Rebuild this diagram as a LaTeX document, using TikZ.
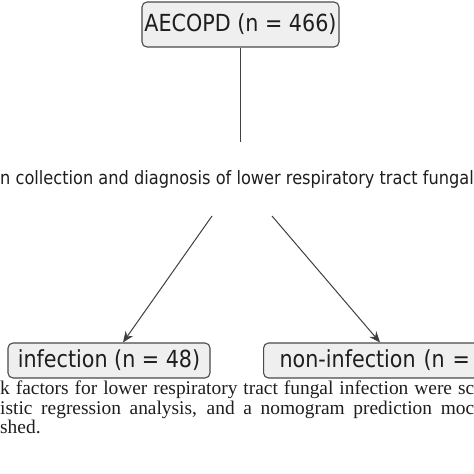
\documentclass[tikz,border=0pt]{standalone}
\usepackage{fontspec}
\setmainfont{Liberation Serif}
\newfontfamily\boxfont[FakeStretch=0.88]{DejaVu Sans}
\usetikzlibrary{arrows.meta}
\definecolor{boxfill}{HTML}{EFEFEF}
\definecolor{boxline}{HTML}{4A4A4A}
\definecolor{ink}{HTML}{1E1E1E}
\begin{document}
\begin{tikzpicture}[x=1pt,y=-1pt,
  flowbox/.style={draw=boxline, fill=boxfill, rounded corners=5pt, line width=1.1pt,
    inner sep=0pt, text=ink, font=\boxfont\fontsize{23.5}{28}\selectfont},
  conn/.style={draw=boxline!85!black, line width=1pt},
  arr/.style={conn, -{Stealth[length=11pt,width=9pt]}},
  midtext/.style={inner sep=0pt, anchor=base west, text=ink, font=\boxfont\fontsize{18.4}{22}\selectfont},
  captext/.style={inner sep=0pt, anchor=base west, text=ink, font=\fontsize{19.4}{20}\selectfont}]
\useasboundingbox (0,0) rectangle (474,474);
\clip (0,0) rectangle (474,474);
\fill[white] (0,0) rectangle (474,474);
% top box
\node[flowbox, minimum width=197pt, minimum height=45pt] (top) at (240.5,24.5) {AECOPD (n = 466)};
\coordinate (v1) at (240.5,142);
\draw[conn] (top.south) -- (v1);
% middle text
\node[midtext] (mid) at (0,184) {n collection and diagnosis of lower respiratory tract fungal};
% bottom boxes
\node[flowbox, minimum width=202pt, minimum height=35pt] (inf) at (109,360.5) {infection (n = 48)};
\node[flowbox, anchor=west, minimum height=35pt, inner xsep=16pt, text width=240pt, align=left] (non) at (263,360.5) {non-infection (n =};
% arrows
\coordinate (s1) at (212,216);
\coordinate (s2) at (272,216);
\coordinate (e1) at (123,0);
\coordinate (e2) at (380,0);
\draw[arr] (s1) -- (inf.north -| e1);
\draw[arr] (s2) -- (non.north -| e2);
% caption
\node[captext] (c1) at (0,394) {\makebox[474pt][s]{k factors for lower respiratory tract fungal infection were sc}};
\node[captext] (c2) at (0,414) {\makebox[474pt][s]{istic regression analysis, and a nomogram prediction moc}};
\node[captext] (c3) at (0,433) {shed.};
\end{tikzpicture}
\end{document}
